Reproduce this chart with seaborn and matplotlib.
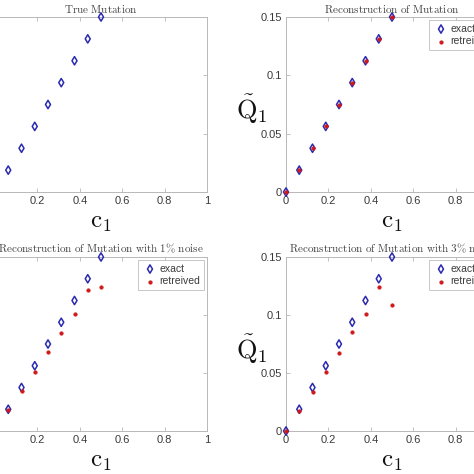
import matplotlib
matplotlib.use("Agg")
import matplotlib.pyplot as plt
import seaborn as sns
import pandas as pd

# ---- data ----
c_vals = [0, 0.0625, 0.125, 0.1875, 0.25, 0.3125, 0.375, 0.4375, 0.5]
q_exact = [0, 0.01875, 0.0375, 0.05625, 0.075, 0.09375, 0.1125, 0.13125, 0.15]
q_retr_clean = [0, 0.01875, 0.0375, 0.05625, 0.075, 0.09375, 0.1125, 0.13125, 0.15]
q_retr_1pct = [0, 0.0178, 0.0342, 0.0506, 0.0678, 0.0848, 0.1010, 0.1213, 0.1240]
q_retr_3pct = [0, 0.0170, 0.0340, 0.0505, 0.0675, 0.0853, 0.1005, 0.1245, 0.1090]

titles = ["True Mutation",
          "Reconstruction of Mutation",
          "Reconstruction of Mutation with 1% noise",
          "Reconstruction of Mutation with 3% noise"]
x_ticks = [0, 0.2, 0.4, 0.6, 0.8, 1]
x_tick_labels = ["0", "0.2", "0.4", "0.6", "0.8", "1"]
y_ticks = [0, 0.05, 0.1, 0.15]
y_tick_labels = ["0", "0.05", "0.1", "0.15"]
legend_labels = ["exact", "retreived"]

sns.set_style("white")
plt.rcParams["font.family"] = ["Liberation Sans", "DejaVu Sans"]
plt.rcParams["mathtext.fontset"] = "cm"

BLUE = "#2a2ab0"
RED = "#d01818"
SPINE = "#b8b8b8"
TXT = "#3a3a3a"

fig = plt.figure(figsize=(4.74, 4.74), dpi=100)
W = 474.0
def rect(x0, y_top, w, h):
    return [x0 / W, (W - y_top - h) / W, w / W, h / W]

axes = [
    fig.add_axes(rect(-5, 17, 212, 175)),
    fig.add_axes(rect(286, 17, 212, 175)),
    fig.add_axes(rect(-5, 257, 212, 174)),
    fig.add_axes(rect(286, 257, 212, 174)),
]
retrieved = [None, q_retr_clean, q_retr_1pct, q_retr_3pct]

for i, ax in enumerate(axes):
    df = pd.DataFrame({"c": c_vals, "q": q_exact})
    sns.scatterplot(data=df, x="c", y="q", ax=ax, marker="d", s=18,
                    facecolors="none", edgecolor=BLUE, linewidth=1.1,
                    clip_on=False, zorder=3,
                    label=legend_labels[0] if retrieved[i] is not None else None)
    if retrieved[i] is not None:
        dr = pd.DataFrame({"c": c_vals, "q": retrieved[i]})
        sns.scatterplot(data=dr, x="c", y="q", ax=ax, marker="o", s=7,
                        color=RED, edgecolor=RED, linewidth=0.3,
                        clip_on=False, zorder=4, label=legend_labels[1])
        leg = ax.legend(loc="upper right", fontsize=7.5, frameon=True,
                        fancybox=False, borderpad=0.35, handletextpad=0.1,
                        handlelength=1.6, labelspacing=0.25,
                        borderaxespad=0.3)
        leg.get_frame().set_edgecolor(SPINE)
        leg.get_frame().set_linewidth(0.7)
        for t in leg.get_texts():
            t.set_color(TXT)
    ax.set_xlim(0, 1)
    ax.set_ylim(0, 0.15)
    ax.set_xticks(x_ticks)
    ax.set_xticklabels(x_tick_labels)
    ax.set_yticks(y_ticks)
    ax.set_yticklabels(y_tick_labels)
    ax.tick_params(direction="in", length=3, width=0.6, colors=SPINE,
                   labelcolor=TXT, labelsize=8, top=True, right=True,
                   left=True, bottom=True, pad=3)
    for s in ax.spines.values():
        s.set_visible(True)
        s.set_color(SPINE)
        s.set_linewidth(0.7)
    t = titles[i].replace(" ", r"\ ").replace("%", r"\%")
    ax.set_title("$\\mathrm{" + t + "}$", fontsize=8, color="#444444", pad=3)
    ax.set_xlabel(r"$\mathrm{c}_{1}$", fontsize=18, color="#111111", va="center")
    ax.xaxis.set_label_coords(0.5, -0.17)
    if i in (1, 3):
        ax.set_ylabel(r"$\tilde{\mathrm{Q}}_{1}$", fontsize=19, color="#111111",
                      rotation=0, va="center", ha="center")
        ax.yaxis.set_label_coords(-0.16, 0.47)
    else:
        ax.set_ylabel("")

fig.savefig("out.png", dpi=100, facecolor="white")
